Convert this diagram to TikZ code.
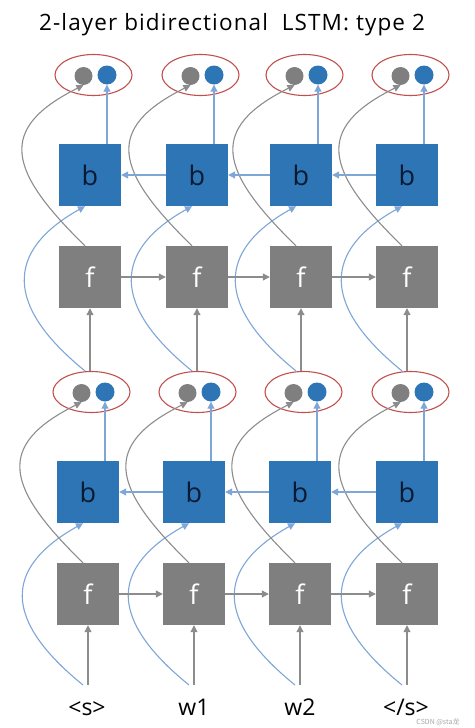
\documentclass[tikz,border=0pt]{standalone}
\usepackage{fontspec}
\setmainfont{Open Sans}
\newfontfamily\cjkfont{Noto Sans CJK SC}
\newfontfamily\titlefont[LetterSpace=5]{Open Sans}
\usetikzlibrary{arrows.meta,shapes.geometric}
\definecolor{bboxc}{HTML}{2E75B6}
\definecolor{fboxc}{HTML}{7F7F7F}
\definecolor{glinec}{HTML}{8C8C8C}
\definecolor{blinec}{HTML}{7EA6D6}
\definecolor{eredc}{HTML}{C0504D}
\definecolor{btextc}{HTML}{0B1A33}
\tikzset{
 cell/.style={minimum width=62pt, minimum height=62pt, inner sep=0pt, font=\fontsize{27}{27}\selectfont},
 fcell/.style={cell, fill=fboxc, text=white},
 bcell/.style={cell, fill=bboxc, text=btextc},
 outer/.style={draw=eredc, line width=1.1pt, ellipse, minimum width=77pt, minimum height=41pt, inner sep=0pt},
 gdot/.style={circle, fill=fboxc, minimum size=18pt, inner sep=0pt},
 bdot/.style={circle, fill=bboxc, minimum size=19pt, inner sep=0pt},
 garrow/.style={draw=glinec, line width=1.1pt, -{Triangle[length=7pt,width=7pt]}},
 barrow/.style={draw=blinec, line width=1.1pt, -{Triangle[length=7pt,width=7pt]}},
 word/.style={font=\fontsize{23}{23}\selectfont, anchor=base},
}
\begin{document}
\begin{tikzpicture}[x=1pt,y=-1pt]
\useasboundingbox (0,0) rectangle (474,728);
\node[font=\titlefont\fontsize{22.5}{22.5}\selectfont, anchor=base] (title) at (232,30) {2-layer bidirectional\hspace{0.3em} LSTM: type 2};
\foreach \k/\ye/\yb/\yf/\xa/\xbb/\xc/\xd in {1/392/492/594/88/194/300/407, 2/75/175/277/90/197/301/407}{
 \foreach \i/\x in {1/\xa,2/\xbb,3/\xc,4/\xd}{
  \node[fcell] (f\k\i) at (\x,\yf) {f};
  \node[bcell] (b\k\i) at (\x,\yb) {b};
  \node[outer] (e\k\i) at (\x+3.5,\ye) {};
  \node[gdot] (g\k\i) at (\x-6.5,\ye+1) {};
  \node[bdot] (d\k\i) at (\x+17,\ye) {};
 }
}
\node[word] (w1) at (87,715) {<s>};
\node[word] (w2) at (194,715) {w1};
\node[word] (w3) at (300,715) {w2};
\node[word] (w4) at (406,715) {</s>};
\coordinate (base) at (0,685);
\foreach \i in {1,...,4}{
 \coordinate (s\i) at (f1\i |- base);
 \coordinate (t\i) at (f2\i.south |- e1\i.north);
 % bottom layer
 \draw[garrow] (s\i) -- (f1\i.south);
 \draw[barrow] ([xshift=-5pt]s\i) .. controls +(-80,-65) and +(-80,45) .. ([xshift=-5pt]b1\i.south);
 \draw[garrow] ([xshift=-5pt]f1\i.north) .. controls +(-78,-76) and +(-86,43) .. (g1\i.south);
 \draw[barrow] (b1\i.north -| d1\i) -- (d1\i.south);
 % top layer
 \draw[garrow] (t\i) -- (f2\i.south);
 \draw[barrow] ([xshift=-5pt]t\i) .. controls +(-80,-65) and +(-80,45) .. ([xshift=-5pt]b2\i.south);
 \draw[garrow] ([xshift=-5pt]f2\i.north) .. controls +(-78,-76) and +(-86,43) .. (g2\i.south);
 \draw[barrow] (b2\i.north -| d2\i) -- (d2\i.south);
}
\foreach \k in {1,2}{
 \foreach \i/\j in {1/2,2/3,3/4}{
  \draw[garrow] (f\k\i) -- (f\k\j);
  \draw[barrow] (b\k\j) -- (b\k\i);
 }
}
\node[font=\cjkfont\fontsize{7}{7}\selectfont, text=black!35] (wm) at (438,722) {CSDN @sta龙};
\end{tikzpicture}
\end{document}
